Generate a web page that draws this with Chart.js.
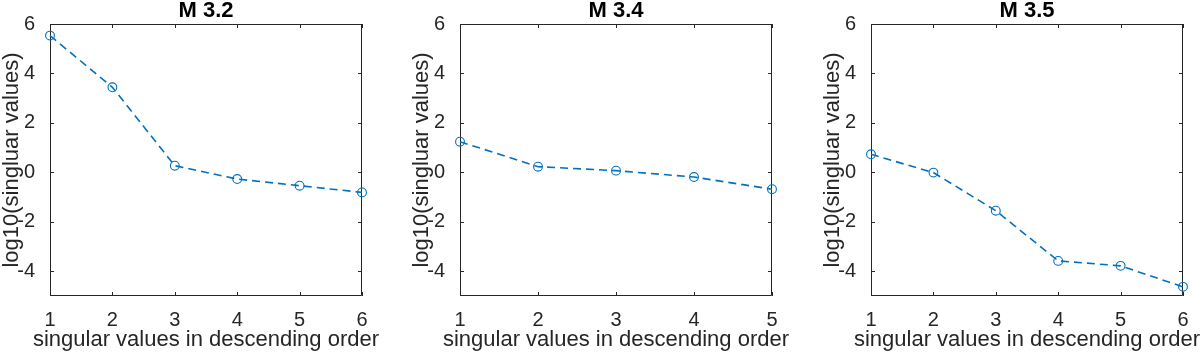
<!DOCTYPE html>
<html lang="en">
<head>
<meta charset="utf-8" />
<title>Singular values</title>
<script src="https://cdn.jsdelivr.net/npm/chart.js@4.4.0/dist/chart.umd.min.js"></script>
<style>
  html, body { margin: 0; padding: 0; background: #fff; }
  #wrap { position: relative; width: 1200px; height: 358px; background: #fff; }
  #wrap canvas { position: absolute; top: 0; }
</style>
</head>
<body>
<div id="wrap">
  <canvas id="c1" width="379" height="358" style="left:0px"></canvas>
  <canvas id="c2" width="379" height="358" style="left:410px"></canvas>
  <canvas id="c3" width="379" height="358" style="left:821px"></canvas>
</div>
<script>
// values (log10 of singular values)
const titles = ["M 3.2", "M 3.4", "M 3.5"];
const m32 = [5.53, 3.44, 0.27, -0.27, -0.54, -0.81];
const m34 = [1.24, 0.23, 0.07, -0.19, -0.68];
const m35 = [0.73, -0.01, -1.55, -3.58, -3.78, -4.63];
const yTicks = [-4, -2, 0, 2, 4, 6];
const yMin = -5, yMax = 6;
const xTitle = "singular values in descending order";
const yTitle = "log10(singluar values)";

const axisColor = "#262626";
const lineColor = "#0072BD";
const font = "'Liberation Sans', Arial, Helvetica, sans-serif";

// MATLAB-style box with inward ticks on all four sides
const boxTicks = {
  id: "boxTicks",
  beforeDatasetsDraw(chart) {
    const { ctx, chartArea: a, scales } = chart;
    const len = 4;
    ctx.save();
    ctx.strokeStyle = axisColor;
    ctx.lineWidth = 1;
    ctx.beginPath();
    ctx.rect(a.left + 0.5, a.top + 0.5, a.right - a.left - 1, a.bottom - a.top - 1);
    scales.x.ticks.forEach(t => {
      const px = Math.round(scales.x.getPixelForValue(t.value)) + 0.5;
      ctx.moveTo(px, a.bottom); ctx.lineTo(px, a.bottom - len);
      ctx.moveTo(px, a.top); ctx.lineTo(px, a.top + len);
    });
    scales.y.ticks.forEach(t => {
      const py = Math.round(scales.y.getPixelForValue(t.value)) + 0.5;
      ctx.moveTo(a.left, py); ctx.lineTo(a.left + len, py);
      ctx.moveTo(a.right, py); ctx.lineTo(a.right - len, py);
    });
    ctx.stroke();
    ctx.restore();
  },
  // x label is wider than the plot, so draw it here without the width clamp
  afterDraw(chart) {
    const { ctx, chartArea: a } = chart;
    ctx.save();
    ctx.fillStyle = axisColor;
    ctx.font = "22px " + font;
    ctx.textAlign = "center";
    ctx.textBaseline = "alphabetic";
    ctx.fillText(xTitle, (a.left + a.right) / 2, 346);
    ctx.restore();
  }
};

function makeChart(id, title, values) {
  const points = values.map((v, i) => ({ x: i + 1, y: v }));
  return new Chart(document.getElementById(id), {
    type: "line",
    data: {
      datasets: [{
        data: points,
        borderColor: lineColor,
        borderWidth: 1.6,
        borderDash: [8, 5],
        pointStyle: "circle",
        pointRadius: 4.4,
        pointBorderWidth: 1.1,
        pointBorderColor: lineColor,
        pointBackgroundColor: "rgba(0,0,0,0)",
        tension: 0,
        clip: false
      }]
    },
    options: {
      responsive: false,
      animation: false,
      devicePixelRatio: 1,
      layout: { padding: { left: 0, right: 17, top: 0, bottom: 0 } },
      plugins: {
        legend: { display: false },
        tooltip: { enabled: false },
        title: {
          display: true,
          text: title,
          fullSize: false,
          color: "#000",
          font: { family: font, size: 22, weight: "bold", lineHeight: 1 },
          padding: { top: 0, bottom: 2 }
        }
      },
      scales: {
        x: {
          type: "linear",
          min: 1,
          max: values.length,
          grid: { display: false },
          border: { display: false },
          ticks: {
            stepSize: 1,
            color: axisColor,
            padding: 4,
            maxRotation: 0,
            font: { family: font, size: 20 }
          },
          title: { display: false },
          afterFit(scale) { scale.height = 62; }
        },
        y: {
          type: "linear",
          min: yMin,
          max: yMax,
          grid: { display: false },
          border: { display: false },
          afterBuildTicks(scale) {
            scale.ticks = yTicks.map(v => ({ value: v }));
          },
          ticks: {
            color: axisColor,
            padding: 7,
            font: { family: font, size: 20 }
          },
          title: {
            display: true,
            text: yTitle,
            color: axisColor,
            font: { family: font, size: 22, lineHeight: 1 },
            padding: { top: 1, bottom: 0 }
          },
          afterFit(scale) { scale.width = 50; }
        }
      }
    },
    plugins: [boxTicks]
  });
}

makeChart("c1", titles[0], m32);
makeChart("c2", titles[1], m34);
makeChart("c3", titles[2], m35);
</script>
</body>
</html>
